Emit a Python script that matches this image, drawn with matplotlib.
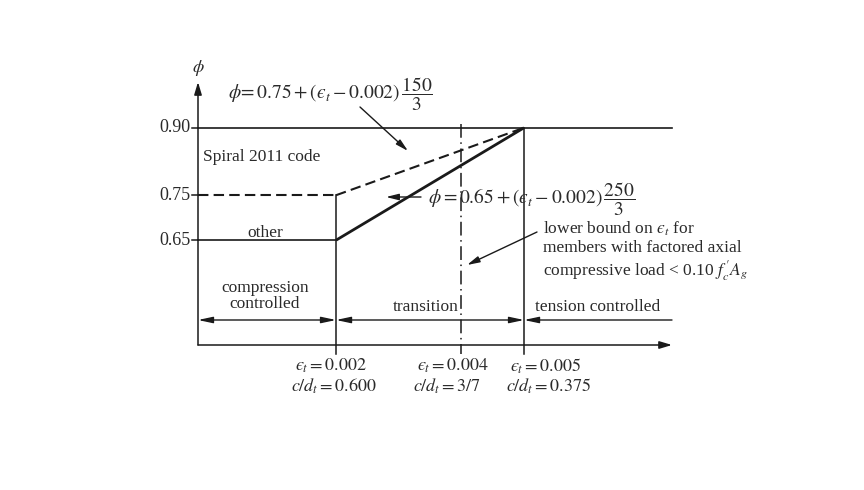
import matplotlib

matplotlib.use("Agg")
import matplotlib.pyplot as plt

# strength reduction factor vs net tensile strain (schematic)
EPS_KEYS = [0.002, 0.004, 0.005]
EPS_LABELS = ["0.002", "0.004", "0.005"]
CD_LABELS = ["0.600", "3/7", "0.375"]
PHI_TICKS = [0.65, 0.75, 0.90]
PHI_TICK_LABELS = ["0.65", "0.75", "0.90"]
PHI_OTHER = [0.65, 0.90]     # at eps = 0.002 and eps = 0.005
PHI_SPIRAL = [0.75, 0.90]
ZONES = ["compression\ncontrolled", "transition", "tension controlled"]

INK = "#1a1a1a"
TEXT = "#2a2a2a"
EPS = "\u03f5"  # lunate epsilon

W, H = 864, 490
# linear pixel mapping for the data frame
X_LO, X_HI = -0.003362, 0.010425
Y_LO, Y_HI = 0.0947, 1.184


def px(x, y):
    return (X_LO + x * (X_HI - X_LO) / W, Y_HI - y * (Y_HI - Y_LO) / H)


plt.rcParams.update(
    {
        "font.family": "Liberation Serif",
        "mathtext.fontset": "stix",
        "font.size": 12.5,
        "text.color": TEXT,
    }
)

fig = plt.figure(figsize=(W / 100, H / 100), dpi=100)
ax = fig.add_axes([0, 0, 1, 1])
ax.set_xlim(X_LO, X_HI)
ax.set_ylim(Y_LO, Y_HI)
ax.axis("off")

eps0, phi_top = px(198, 82)
eps_end, phi0 = px(672, 345)
phi_low = px(0, 354)[1]

# axes with arrows
ax.annotate("", xy=(eps0, phi_top), xytext=(eps0, phi0),
            arrowprops=dict(arrowstyle="-|>,head_length=0.6,head_width=0.18",
                            color=INK, lw=1.1, shrinkA=0, shrinkB=0))
ax.annotate("", xy=(eps_end, phi0), xytext=(eps0, phi0),
            arrowprops=dict(arrowstyle="-|>,head_length=0.6,head_width=0.18",
                            color=INK, lw=1.1, shrinkA=0, shrinkB=0))
ax.text(eps0, px(0, 68)[1], r"$\phi$", ha="center", va="center", fontsize=13)

# y ticks
tick_len = px(6, 0)[0] - px(0, 0)[0]
for v, lab in zip(PHI_TICKS, PHI_TICK_LABELS):
    ax.plot([eps0 - tick_len, eps0], [v, v], color=INK, lw=1.1)
    ax.text(px(191, 0)[0], v, lab, ha="right", va="center", fontsize=13)

# phi = 0.90 plateau
ax.plot([eps0, eps_end], [0.90, 0.90], color=INK, lw=1.2)

# other members
ax.plot([eps0, EPS_KEYS[0]], [PHI_OTHER[0]] * 2, color=INK, lw=1.2)
ax.plot([EPS_KEYS[0], EPS_KEYS[2]], PHI_OTHER, color=INK, lw=2.0,
        solid_capstyle="butt")

# spiral
ax.plot([eps0, EPS_KEYS[0]], [PHI_SPIRAL[0]] * 2, color=INK, lw=1.5,
        linestyle=(0, (5, 2.5)))
ax.plot([EPS_KEYS[0], EPS_KEYS[2]], PHI_SPIRAL, color=INK, lw=1.5,
        linestyle=(0, (5, 2.5)))

# vertical limits
ax.plot([EPS_KEYS[0]] * 2, [PHI_SPIRAL[0], phi_low], color=INK, lw=1.1)
ax.plot([EPS_KEYS[2]] * 2, [PHI_OTHER[1], phi_low], color=INK, lw=1.1)
ax.plot([EPS_KEYS[1]] * 2, [px(0, 124)[1], phi_low], color=INK, lw=1.1,
        linestyle=(0, (9, 3, 1, 3)))

# zone arrows
phi_arr = px(0, 320)[1]
arr = dict(color=INK, lw=1.0, shrinkA=0, shrinkB=0)
ax.annotate("", xy=(EPS_KEYS[0], phi_arr), xytext=(eps0, phi_arr),
            arrowprops=dict(arrowstyle="<|-|>,head_length=0.7,head_width=0.15", **arr))
ax.annotate("", xy=(EPS_KEYS[2], phi_arr), xytext=(EPS_KEYS[0], phi_arr),
            arrowprops=dict(arrowstyle="<|-|>,head_length=0.7,head_width=0.15", **arr))
ax.annotate("", xy=(EPS_KEYS[2], phi_arr), xytext=(eps_end, phi_arr),
            arrowprops=dict(arrowstyle="-|>,head_length=0.7,head_width=0.15", **arr))

comp_top, comp_bot = ZONES[0].split("\n")
ax.text(px(265, 0)[0], px(0, 288)[1], comp_top, ha="center", va="center")
ax.text(px(265, 0)[0], px(0, 304)[1], comp_bot, ha="center", va="center")
ax.text((EPS_KEYS[0] + EPS_KEYS[2]) / 2 - 0.00007, px(0, 307)[1], ZONES[1],
        ha="center", va="center")
ax.text((EPS_KEYS[2] + eps_end) / 2, px(0, 307)[1], ZONES[2],
        ha="center", va="center")

# curve labels
ax.text(px(203, 0)[0], px(0, 157)[1], "Spiral 2011 code", ha="left", va="center")
ax.text(px(265, 0)[0], px(0, 233)[1], "other", ha="center", va="center")

ax.text(px(228, 0)[0], px(0, 94)[1],
        r"$\phi\!=0.75+(" + EPS + r"_t-0.002)\,\dfrac{150}{3}$",
        ha="left", va="center", fontsize=14)
ax.annotate("", xy=px(408, 151), xytext=px(360, 107),
            arrowprops=dict(arrowstyle="-|>,head_length=0.6,head_width=0.15", **arr))

ax.text(px(428, 0)[0], px(0, 199)[1],
        r"$\phi=0.65+(" + EPS + r"_t-0.002)\,\dfrac{250}{3}$",
        ha="left", va="center", fontsize=14)
ax.annotate("", xy=px(386, 197), xytext=px(421, 197),
            arrowprops=dict(arrowstyle="-|>,head_length=0.6,head_width=0.15", **arr))

ax.text(px(543, 0)[0], px(0, 220)[1],
        "lower bound on $" + EPS + "_t$ for\nmembers with factored axial\n"
        r"compressive load < 0.10 $f_{c}^{\,\prime}A_{g}$",
        ha="left", va="top", linespacing=1.15)
ax.annotate("", xy=px(467, 265), xytext=px(537, 232),
            arrowprops=dict(arrowstyle="-|>,head_length=0.6,head_width=0.15", **arr))

# strain labels under the axis
offsets = [(-41, "left"), (-44, "left"), (-14, "left")]
for e, el, cl, (dx, ha) in zip(EPS_KEYS, EPS_LABELS, CD_LABELS, offsets):
    x = e + dx * (X_HI - X_LO) / W
    ax.text(x, px(0, 366)[1], "$" + EPS + rf"_t = {el}$", ha=ha, va="center", fontsize=13)
    ax.text(x - 4 * (X_HI - X_LO) / W, px(0, 386)[1], rf"$c/d_t = \mathrm{{{cl}}}$",
            ha=ha, va="center", fontsize=13)

fig.savefig("out.png", dpi=100, facecolor="white")
